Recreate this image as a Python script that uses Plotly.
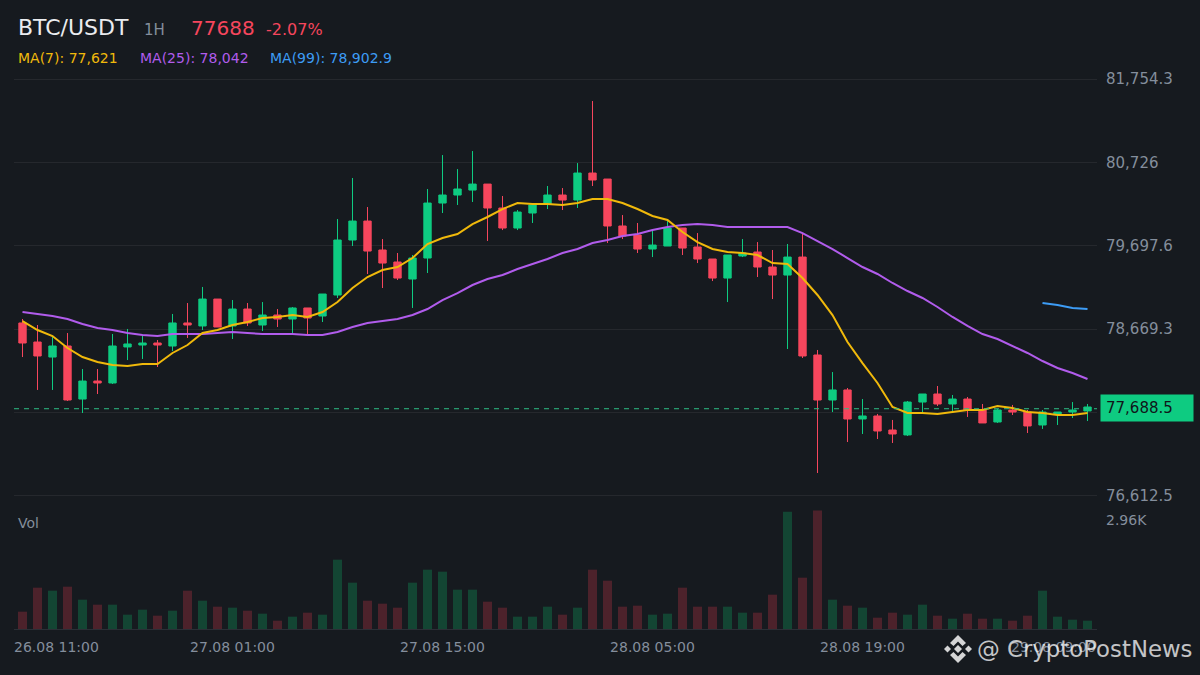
import pandas as pd
import plotly.graph_objects as go

W = 1200
H = 675

# hourly candles, values
times = pd.date_range("2025-08-26 11:00", periods=72, freq="h")

opens = [78746, 78511, 78326, 78462, 77808, 78030, 78006, 78450, 78474, 78499, 78462, 78746,
         78709, 79041, 78709, 78918, 78721, 78844, 78795, 78931, 78832, 79091, 79769, 80003,
         79646, 79498, 79288, 79547, 80225, 80324, 80385, 80459, 80164, 79917, 80102, 80213,
         80324, 80262, 80595, 80521, 79942, 79831, 79658, 79695, 79917, 79683, 79535, 79300,
         79572, 79621, 79436, 79337, 79559, 78351, 77796, 77920, 77562, 77599, 77426, 77365,
         77771, 77870, 77747, 77808, 77673, 77525, 77673, 77648, 77488, 77624, 77648, 77661]
highs = [78795, 78721, 78573, 78622, 78178, 78178, 78610, 78672, 78585, 78536, 78857, 78992,
         79190, 79041, 79029, 78992, 79004, 78918, 78943, 78931, 79103, 80028, 80534, 80176,
         79781, 79609, 79584, 80398, 80817, 80644, 80866, 80459, 80312, 80139, 80201, 80435,
         80410, 80718, 81483, 80521, 80077, 79979, 79880, 80003, 79917, 79855, 79535, 79584,
         79781, 79744, 79646, 79720, 79855, 78413, 78141, 77944, 77808, 77624, 77550, 77784,
         77870, 77969, 77858, 77833, 77747, 77685, 77735, 77673, 77673, 77648, 77771, 77747]
lows = [78326, 77920, 77920, 77784, 77636, 77870, 77994, 78289, 78302, 78203, 78400, 78561,
        78659, 78696, 78548, 78709, 78647, 78696, 78610, 78598, 78758, 79054, 79695, 79350,
        79177, 79276, 78931, 79362, 80102, 80201, 80238, 79757, 79892, 79892, 79979, 80151,
        80139, 80164, 80435, 79732, 79781, 79609, 79559, 79695, 79584, 79485, 79263, 79004,
        79559, 79313, 79041, 78425, 78314, 76896, 77648, 77278, 77377, 77315, 77266, 77352,
        77648, 77722, 77661, 77587, 77513, 77513, 77611, 77389, 77439, 77488, 77574, 77537]
closes = [78499, 78339, 78462, 77796, 78030, 78006, 78462, 78487, 78499, 78474, 78746, 78721,
          79041, 78696, 78918, 78746, 78844, 78795, 78931, 78807, 79103, 79769, 80003, 79633,
          79485, 79300, 79547, 80225, 80324, 80398, 80459, 80164, 79917, 80114, 80201, 80324,
          80262, 80595, 80509, 79942, 79818, 79658, 79707, 79917, 79670, 79535, 79300, 79584,
          79609, 79436, 79337, 79559, 78339, 77796, 77920, 77562, 77599, 77414, 77377, 77771,
          77870, 77747, 77808, 77673, 77513, 77673, 77648, 77476, 77648, 77648, 77673, 77710]

ma7 = [78770, 78659, 78585, 78437, 78326, 78265, 78228, 78215, 78240, 78240, 78376, 78474,
       78622, 78659, 78721, 78758, 78807, 78820, 78844, 78820, 78881, 79004, 79177, 79313,
       79399, 79436, 79547, 79720, 79794, 79843, 79966, 80053, 80151, 80225, 80213, 80213,
       80201, 80225, 80275, 80275, 80225, 80151, 80065, 80016, 79868, 79744, 79658, 79621,
       79609, 79584, 79485, 79473, 79300, 79091, 78844, 78511, 78252, 78006, 77710, 77636,
       77636, 77624, 77648, 77673, 77673, 77722, 77698, 77648, 77636, 77611, 77611, 77636]
ma25 = [78881, 78857, 78832, 78795, 78733, 78684, 78659, 78622, 78598, 78585, 78610, 78610,
        78610, 78622, 78635, 78622, 78610, 78610, 78610, 78598, 78598, 78635, 78696, 78746,
        78770, 78795, 78844, 78918, 79029, 79115, 79214, 79288, 79337, 79411, 79473, 79535,
        79609, 79658, 79732, 79769, 79818, 79843, 79892, 79929, 79954, 79966, 79954, 79929,
        79929, 79929, 79929, 79929, 79855, 79757, 79658, 79547, 79436, 79350, 79239, 79140,
        79054, 78943, 78820, 78709, 78610, 78548, 78462, 78376, 78277, 78191, 78129, 78055]
# only the tail of MA(99) falls inside the window
ma99 = [78992, 78967, 78931, 78918]

volumes = [433, 1033, 958, 1058, 733, 608, 608, 358, 483, 333, 458, 958,
           708, 558, 533, 458, 383, 208, 308, 408, 358, 1733, 1158, 708,
           633, 533, 1158, 1483, 1433, 983, 983, 683, 533, 308, 308, 558,
           358, 533, 1483, 1208, 558, 583, 358, 383, 1033, 558, 558, 558,
           408, 408, 858, 2933, 1283, 2960, 733, 583, 533, 283, 408, 358,
           608, 333, 258, 383, 258, 258, 208, 333, 958, 308, 233, 208]

price_ticks = [76612.5, 77640.9, 78669.3, 79697.6, 80726, 81754.3]
# the 77,640.9 label sits behind the last-price tag
price_labels = ["76,612.5", "", "78,669.3", "79,697.6", "80,726", "81,754.3"]
date_tick_index = [14, 28, 42, 56]
date_labels = ["27.08 01:00", "27.08 15:00", "28.08 05:00", "28.08 19:00"]
first_date_label = "26.08 11:00"
last_date_label = "29.08 09:00"
last_price = 77688.5

BG = "#161a1f"
GRID = "#25282d"
MUTED = "#848e9c"
UP = "#0ecb81"
DOWN = "#f6465d"
UP_DIM = "#134533"
DOWN_DIM = "#4c222b"
FONT = "DejaVu Sans"


# helpers for things placed by pixel on the page
def px_x(x):
    return x / W


def px_y(y):
    return 1 - y / H


def label(x, y, text, size, color, anchor="left"):
    # annotations carry about 2px of padding on each side
    shift = -2 if anchor == "left" else 2
    fig.add_annotation(x=px_x(x), y=px_y(y), xref="paper", yref="paper", text=text,
                       showarrow=False, xanchor=anchor, yanchor="middle", xshift=shift,
                       font=dict(family=FONT, size=size, color=color))


def logo_piece(points, color="rgba(255,255,255,0.82)"):
    path = "M " + " L ".join("{} {}".format(px_x(x), px_y(y)) for x, y in points) + " Z"
    fig.add_shape(type="path", path=path, xref="paper", yref="paper",
                  fillcolor=color, line=dict(width=0), layer="above")


fig = go.Figure()

fig.add_trace(go.Bar(
    x=times, y=volumes, yaxis="y2", width=3600000 * 0.6,
    marker=dict(color=[UP_DIM if c >= o else DOWN_DIM for o, c in zip(opens, closes)], line=dict(width=0)),
))
fig.add_trace(go.Candlestick(
    x=times, open=opens, high=highs, low=lows, close=closes,
    increasing=dict(line=dict(color=UP, width=1), fillcolor=UP),
    decreasing=dict(line=dict(color=DOWN, width=1), fillcolor=DOWN),
))
fig.add_trace(go.Scatter(x=times, y=ma25, mode="lines", line=dict(color="#b15cec", width=2)))
fig.add_trace(go.Scatter(x=times, y=ma7, mode="lines", line=dict(color="#f0b90b", width=2)))
fig.add_trace(go.Scatter(x=times[-len(ma99):], y=ma99, mode="lines", line=dict(color="#3d9cf5", width=2)))

fig.update_layout(
    width=W, height=H,
    margin=dict(l=0, r=0, t=0, b=0, autoexpand=False),
    paper_bgcolor=BG, plot_bgcolor=BG,
    showlegend=False,
    boxgap=0.3,
    font=dict(family=FONT, color=MUTED),
    xaxis=dict(
        domain=[px_x(14), px_x(1097)],
        anchor="y2",
        type="date",
        range=[times[0] - pd.Timedelta(minutes=34), times[-1] + pd.Timedelta(minutes=38)],
        rangeslider=dict(visible=False),
        showgrid=False,
        showline=True, linecolor="#2b2f36", linewidth=1,
        tickmode="array",
        tickvals=[times[i] for i in date_tick_index],
        ticktext=date_labels,
        tickfont=dict(size=14, color=MUTED),
        ticks="outside", ticklen=5, tickcolor=BG,
    ),
    yaxis=dict(
        # one pixel of slack each side so the first and last gridlines still draw
        domain=[px_y(497), px_y(78)],
        anchor="x",
        side="right",
        range=[76600, 81767],
        tickmode="array",
        tickvals=price_ticks,
        ticktext=price_labels,
        tickfont=dict(size=15, color=MUTED),
        ticks="outside", ticklen=5, tickcolor=BG,
        gridcolor=GRID, gridwidth=1,
        zeroline=False,
    ),
    yaxis2=dict(
        domain=[px_y(629), px_y(509)],
        anchor="x",
        side="right",
        range=[0, 3000],
        showgrid=False, zeroline=False, showticklabels=False,
    ),
)

# last price line and its tag
fig.add_shape(type="line", xref="x", yref="y", x0=times[0] - pd.Timedelta(minutes=34),
              x1=times[-1] + pd.Timedelta(minutes=38), y0=last_price, y1=last_price,
              line=dict(color="#2ebd85", width=1, dash="5px,5px"), layer="above")
fig.add_annotation(x=px_x(1100), y=px_y(408), xref="paper", yref="paper", text="77,688.5",
                   showarrow=False, xanchor="left", yanchor="middle", align="left",
                   width=82, height=16, borderpad=5, bgcolor=UP,
                   font=dict(family=FONT, size=15, color="#10161a"))

# header
label(18, 27, "BTC/USDT", 22, "#eaecef")
label(144, 30, "1H", 15, MUTED)
label(191, 28, "77688", 20, DOWN)
label(266, 29, "-2.07%", 16, DOWN)
label(18, 58, "MA(7): 77,621", 14, "#f0b90b")
label(140, 58, "MA(25): 78,042", 14, "#b15cec")
label(270, 58, "MA(99): 78,902.9", 14, "#3d9cf5")

label(18, 523, "Vol", 14, MUTED)
label(1106, 520, "2.96K", 14, MUTED)
label(14, 647, first_date_label, 14, MUTED)
label(1096, 647, last_date_label, 14, MUTED, anchor="right")

# watermark
label(977, 649, "@ CryptoPostNews", 22.8, "rgba(255,255,255,0.75)")
logo_piece([(958, 635), (966, 643), (962.5, 646), (958, 641.5), (953.5, 646), (950, 643)])
logo_piece([(958, 663), (966, 655), (962.5, 652), (958, 656.5), (953.5, 652), (950, 655)])
logo_piece([(958, 645), (962, 649), (958, 653), (954, 649)])
logo_piece([(947.5, 645.5), (951, 649), (947.5, 652.5), (944, 649)])
logo_piece([(968.5, 645.5), (972, 649), (968.5, 652.5), (965, 649)])

# drop the page margin so the figure fills the window
fig.write_html("out.html", config={"displayModeBar": False},
               post_script="document.body.style.margin = '0';")
